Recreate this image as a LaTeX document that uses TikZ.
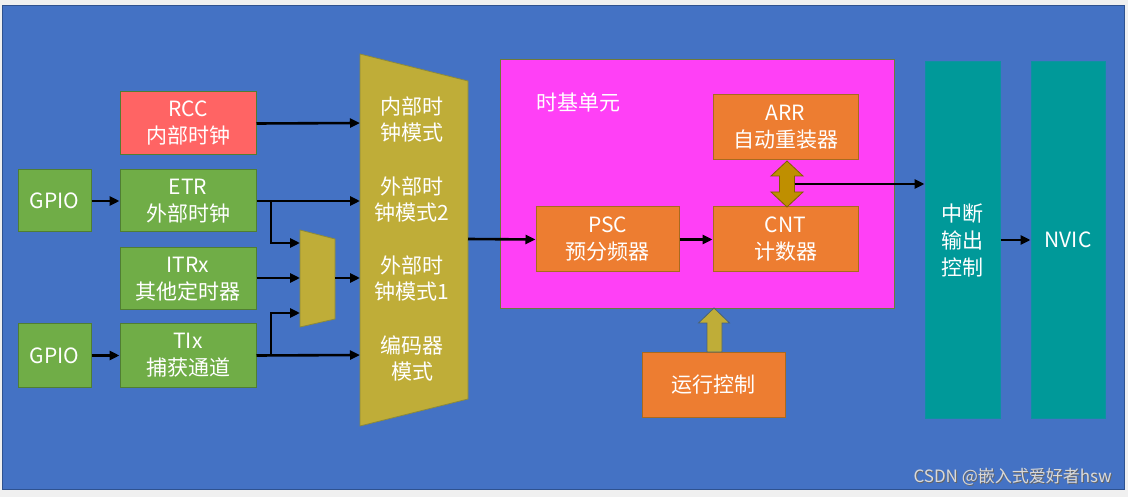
\documentclass[tikz,border=0pt]{standalone}
\usepackage{fontspec}
\newfontfamily\cjk{Noto Sans CJK SC}
\usetikzlibrary{arrows.meta}
\definecolor{bgblue}{HTML}{4472C4}
\definecolor{bgblueb}{HTML}{2F528F}
\definecolor{pgreen}{HTML}{70AD47}
\definecolor{pgreenb}{HTML}{507E32}
\definecolor{pred}{HTML}{FF6464}
\definecolor{porange}{HTML}{ED7D31}
\definecolor{porangeb}{HTML}{A86A1E}
\definecolor{pmag}{HTML}{FF40F6}
\definecolor{pmagb}{HTML}{6E7A3A}
\definecolor{pgold}{HTML}{BFAD38}
\definecolor{pgoldb}{HTML}{8C8A3A}
\definecolor{pdgold}{HTML}{BF8F00}
\definecolor{pdgoldb}{HTML}{7F6000}
\definecolor{pteal}{HTML}{009999}
\definecolor{pgray}{HTML}{F0F0F0}
\tikzset{
  box/.style={draw, line width=1pt, text=white, align=center, inner sep=0pt,
    font=\cjk\fontsize{21}{27}\selectfont},
  gbox/.style={box, fill=pgreen, draw=pgreenb},
  obox/.style={box, fill=porange, draw=porangeb},
  tbox/.style={box, fill=pteal, draw=pteal!80!bgblue},
  lbl/.style={text=white, align=center, inner sep=0pt, font=\cjk\fontsize{21}{26}\selectfont},
  conn/.style={line width=2.6pt, -{Triangle[length=10pt,width=9pt]}},
}
\begin{document}
\begin{tikzpicture}[x=1pt,y=-1pt]
\useasboundingbox (0,0) rectangle (1128,497);
\fill[pgray] (0,0) rectangle (1128,497);
\draw[fill=bgblue, draw=bgblueb, line width=1pt] (2.5,5.5) rectangle (1124.5,489);

% left boxes
\node[box, fill=pred, draw=pgreenb, minimum width=136pt, minimum height=63pt] (rcc) at (188,123.5) {RCC\\内部时钟};
\node[gbox, minimum width=73pt, minimum height=62pt] (gpio1) at (54.5,201) {GPIO};
\node[gbox, minimum width=136pt, minimum height=62pt] (etr) at (188,201) {ETR\\外部时钟};
\node[gbox, minimum width=136pt, minimum height=62pt] (itr) at (188,279) {ITRx\\其他定时器};
\node[gbox, minimum width=73pt, minimum height=63pt] (gpio2) at (54.5,355.5) {GPIO};
\node[gbox, minimum width=136pt, minimum height=63pt] (tix) at (188,355.5) {TIx\\捕获通道};

% small mux
\draw[fill=pgold, draw=pgoldb, line width=0.8pt] (300,230) -- (335,239) -- (335,319) -- (300,327) -- cycle;
\coordinate (muxA) at (300,243);
\coordinate (muxB) at (300,278);
\coordinate (muxC) at (300,313);
\coordinate (muxO) at (335,278);

% big trapezoid
\draw[fill=pgold, draw=pgoldb, line width=0.8pt] (360,54) -- (468,81) -- (468,399) -- (360,426) -- cycle;
\coordinate (bigA) at (360,123);
\coordinate (bigB) at (360,201);
\coordinate (bigC) at (360,278);
\coordinate (bigD) at (360,355);
\coordinate (bigO) at (468,239);
\node[lbl] (m1) at (412,120) {内部时\\钟模式};
\node[lbl] (m2) at (412,200) {外部时\\钟模式2};
\node[lbl] (m3) at (412,278) {外部时\\钟模式1};
\node[lbl] (m4) at (412,358) {编码器\\模式};

% time base unit
\node[draw=pmagb, fill=pmag, line width=0.8pt, minimum width=394pt, minimum height=249pt, inner sep=0pt] (tbu) at (697,183.5) {};
\node[lbl] (tbut) at (578,103) {时基单元};
\node[obox, minimum width=145pt, minimum height=65pt] (arr) at (785.5,127.5) {ARR\\自动重装器};
\node[obox, minimum width=143pt, minimum height=65pt] (psc) at (607.5,239.5) {PSC\\预分频器};
\node[obox, minimum width=145pt, minimum height=65pt] (cnt) at (785.5,239.5) {CNT\\计数器};
\node[obox, minimum width=143pt, minimum height=65pt] (run) at (713.5,384.5) {运行控制};

% right boxes
\node[tbox, minimum width=75pt, minimum height=356pt] (irq) at (962.5,240) {中断\\输出\\控制};
\node[tbox, minimum width=74pt, minimum height=356pt] (nvic) at (1068,240) {NVIC};

% double arrow ARR <-> CNT
\draw[fill=pdgold, draw=pdgoldb, line width=0.8pt]
  (787,161) -- (803,176) -- (794.5,176) -- (794.5,192) -- (803,192) -- (787,207)
  -- (771,192) -- (779.5,192) -- (779.5,176) -- (771,176) -- cycle;
\coordinate (dbl) at (794.5,184);

% up arrow run -> tbu
\draw[fill=pgold, draw=bgblueb!70!pgoldb, line width=0.8pt]
  (714,308) -- (729.5,323) -- (722,323) -- (722,352) -- (707,352) -- (707,323) -- (698.5,323) -- cycle;

% connectors
\draw[conn] (rcc.east) -- (bigA);
\draw[conn] (gpio1.east) -- (etr.west);
\draw[conn] (etr.east) -- (bigB);
\draw[conn] (etr.east -| 271,0) -- (271,243) -- (muxA);
\draw[conn] (itr.east |- muxB) -- (muxB);
\draw[conn] (muxO) -- (bigC);
\draw[conn] (gpio2.east) -- (tix.west);
\draw[conn] (tix.east) -- (bigD);
\draw[conn] (tix.east -| 271,0) -- (271,313) -- (muxC);
\draw[conn] (bigO) -- (psc.west);
\draw[conn] (psc.east) -- (cnt.west);
\draw[conn] (dbl) -- (irq.west |- dbl);
\draw[conn] (irq.east) -- (nvic.west);

% watermark
\node[text=black!60, font=\cjk\fontsize{17}{17}\selectfont, anchor=east, inner sep=0pt] (wm2) at (1113,478) {CSDN @嵌入式爱好者hsw};
\node[text=black!15, font=\cjk\fontsize{17}{17}\selectfont, anchor=east, inner sep=0pt] (wm) at (1112,477) {CSDN @嵌入式爱好者hsw};
\end{tikzpicture}
\end{document}
